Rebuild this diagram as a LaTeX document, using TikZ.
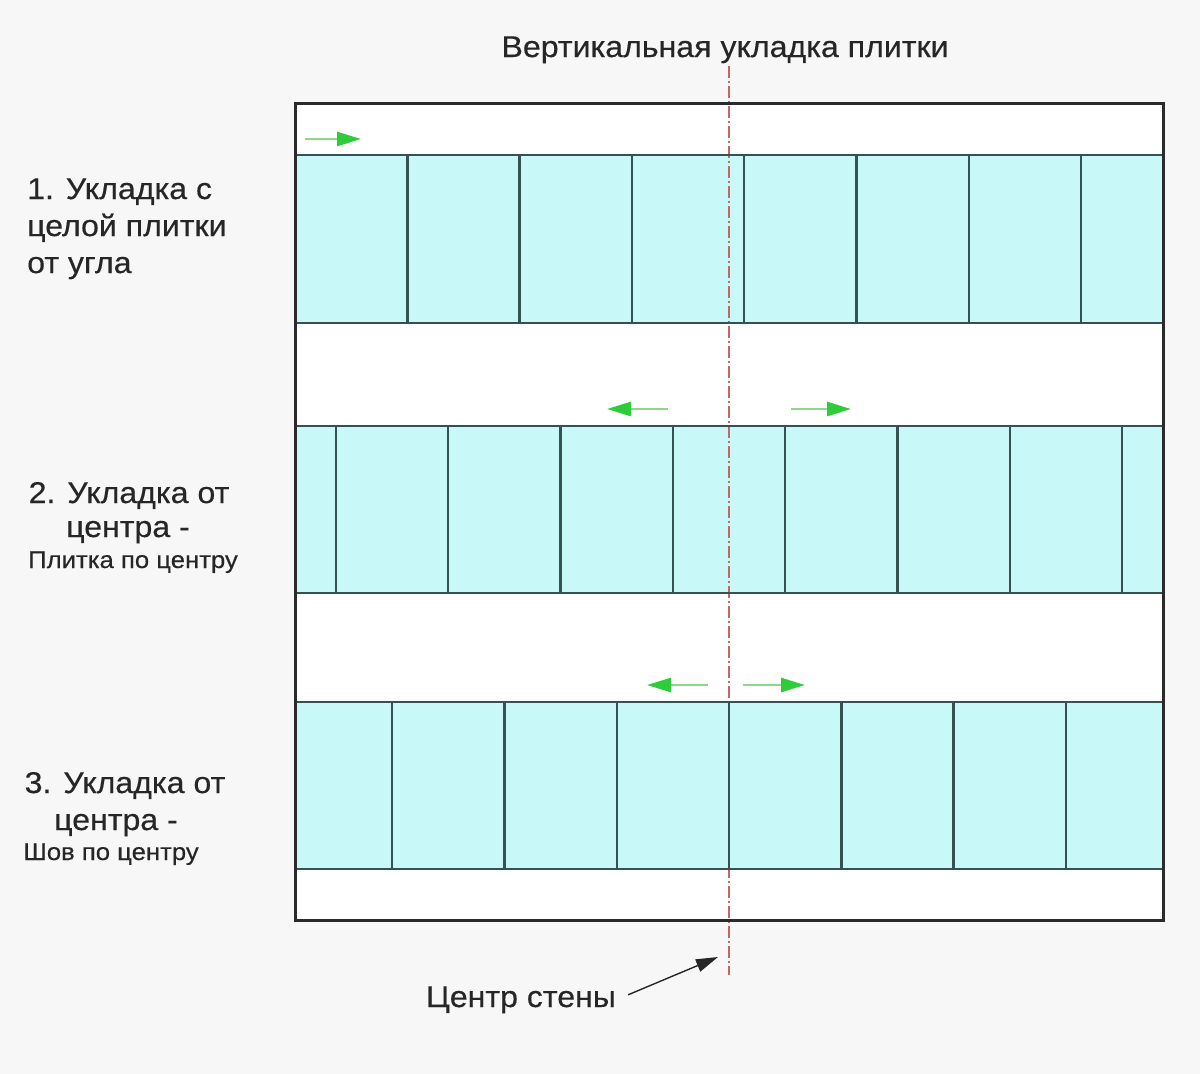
\documentclass[tikz,border=0pt]{standalone}
\usepackage{fontspec}
\setmainfont{Liberation Sans}[FakeStretch=1.07,FakeBold=0.4]
\usetikzlibrary{arrows.meta}
\definecolor{tilefill}{HTML}{C9F8F9}
\definecolor{tileline}{HTML}{355152}
\definecolor{framecol}{HTML}{2B2B2B}
\definecolor{centercol}{HTML}{C86464}
\definecolor{shaftgreen}{HTML}{8ADA8A}
\definecolor{tipgreen}{HTML}{2FCC3A}
\definecolor{bgcol}{HTML}{F7F7F7}
\tikzset{
  bigtxt/.style={font=\fontsize{30}{36}\selectfont, text=black!85, inner sep=0pt, anchor=base},
  smalltxt/.style={font=\fontsize{24}{28}\selectfont, text=black!85, inner sep=0pt, anchor=base},
  bandline/.style={draw=tileline, line width=2pt},
  joint/.style={draw=tileline, line width=2.4pt},
  greenarrow/.style={draw=shaftgreen, line width=2.8pt, -{Triangle[length=24pt,width=14pt,color=tipgreen]}},
  centerline/.style={draw=centercol, line width=1.3pt, dash pattern=on 12pt off 3pt on 2pt off 3pt},
  pointer/.style={draw=black!85, line width=1.4pt, -{Triangle[length=22pt,width=13pt]}}
}
\begin{document}
\begin{tikzpicture}[x=1pt,y=-1pt]
\useasboundingbox (0,0) rectangle (1200,1074);
\fill[bgcol] (0,0) rectangle (1200,1074);
\fill[white] (295,103) rectangle (1163,920);
% band fills
\foreach \ya/\yb in {155/323, 426/593, 702/869}
  \fill[tilefill] (295,\ya) rectangle (1163,\yb);
% center line
\coordinate (ctop) at (729,66);
\coordinate (cbot) at (729,975);
\draw[centerline] (ctop) -- (cbot);
% band edges
\foreach \ya/\yb in {155/323, 426/593, 702/869}{
  \draw[bandline] (295,\ya) -- (1163,\ya);
  \draw[bandline] (295,\yb) -- (1163,\yb);
}
% joints band 1
\foreach \x in {407.3,519.6,631.9,744.2,856.5,968.8,1081.1}
  \draw[joint] (\x,155) -- (\x,323);
% joints band 2
\foreach \x in {335.95,448.25,560.55,672.85,785.15,897.45,1009.75,1122.05}
  \draw[joint] (\x,426) -- (\x,593);
% joints band 3
\foreach \x in {392.1,504.4,616.7,729,841.3,953.6,1065.9}
  \draw[joint] (\x,702) -- (\x,869);
% frame
\draw[framecol, line width=3pt] (295,103) rectangle (1163,920);
% green arrows
\coordinate (a1s) at (305,139); \coordinate (a1e) at (361,139);
\coordinate (a2ls) at (668,409); \coordinate (a2le) at (607,409);
\coordinate (a2rs) at (791,409); \coordinate (a2re) at (851,409);
\coordinate (a3ls) at (708,685); \coordinate (a3le) at (647,685);
\coordinate (a3rs) at (743,685); \coordinate (a3re) at (805,685);
\draw[greenarrow] (a1s) -- (a1e);
\draw[greenarrow] (a2ls) -- (a2le);
\draw[greenarrow] (a2rs) -- (a2re);
\draw[greenarrow] (a3ls) -- (a3le);
\draw[greenarrow] (a3rs) -- (a3re);
% title
\node[bigtxt] (title) at (725,57) {Вертикальная укладка плитки};
% label 1
\node[bigtxt, anchor=base west] (lab1a) at (27,199) {1. Укладка с};
\node[bigtxt, anchor=base west] (lab1b) at (27,236) {целой плитки};
\node[bigtxt, anchor=base west] (lab1c) at (27,273) {от угла};
% label 2
\node[bigtxt] (lab2a) at (129,503) {2. Укладка от};
\node[bigtxt] (lab2b) at (128,537) {центра -};
\node[smalltxt] (lab2s) at (133,568) {Плитка по центру};
% label 3
\node[bigtxt] (lab3a) at (125,793) {3. Укладка от};
\node[bigtxt] (lab3b) at (116,830) {центра -};
\node[smalltxt] (lab3s) at (111,860) {Шов по центру};
% bottom
\node[bigtxt] (wall) at (521,1007) {Центр стены};
\coordinate (wallpt) at (718,957);
\draw[pointer] ([xshift=12pt,yshift=5pt]wall.east) -- (wallpt);
\end{tikzpicture}
\end{document}
